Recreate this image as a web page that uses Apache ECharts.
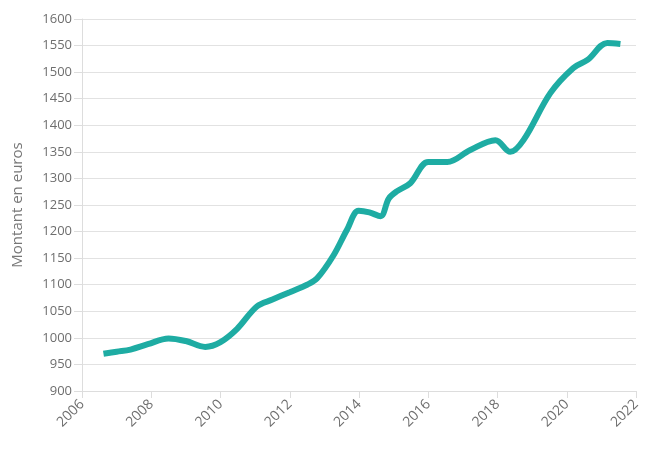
<!DOCTYPE html>
<html>
<head>
<meta charset="utf-8">
<script src="https://cdn.jsdelivr.net/npm/echarts@6/dist/echarts.min.js"></script>
<style>html,body{margin:0;padding:0;background:#fff}#c{width:660px;height:450px}</style>
</head>
<body>
<div id="c"></div>
<script>
const years = [2006.62, 2007.0, 2007.4, 2007.9, 2008.5, 2009.0, 2009.56, 2010.0, 2010.48, 2011.05, 2011.5, 2012.0, 2012.5, 2012.79, 2013.27, 2013.65, 2013.99, 2014.3, 2014.62, 2014.86, 2015.1, 2015.48, 2016.0, 2016.55, 2017.2, 2017.94, 2018.37, 2018.75, 2019.53, 2020.19, 2020.6, 2021.17, 2021.55];
const values = [970, 974, 978, 988, 999, 994, 983, 992, 1017, 1059, 1072, 1086, 1100, 1112, 1156, 1203, 1239, 1236, 1229, 1262, 1276, 1291, 1331, 1331, 1353, 1372, 1350, 1372, 1461, 1508, 1523, 1555, 1553];
const yAxisTitle = 'Montant en euros';

const chart = echarts.init(document.getElementById('c'), null, {renderer: 'canvas'});
chart.setOption({
  animation: false,
  backgroundColor: '#ffffff',
  textStyle: {fontFamily: 'Open Sans'},
  grid: {left: 82, right: 24, top: 19, bottom: 59, containLabel: false},
  xAxis: {
    type: 'value', min: 2006, max: 2022, interval: 2,
    axisLine: {show: true, lineStyle: {color: '#dddddd', width: 1}},
    axisTick: {show: true, length: 7, lineStyle: {color: '#dddddd'}},
    splitLine: {show: false},
    axisLabel: {rotate: 45, color: '#6e6e6e', fontSize: 14, margin: 11, fontFamily: 'Open Sans', formatter: v => String(v)}
  },
  yAxis: {
    type: 'value', min: 900, max: 1600, interval: 50,
    name: yAxisTitle, nameLocation: 'middle', nameGap: 57, nameRotate: 90,
    nameTextStyle: {color: '#777777', fontSize: 15, fontFamily: 'Open Sans'},
    axisLine: {show: true, lineStyle: {color: '#dddddd', width: 1}},
    axisTick: {show: true, length: 8, lineStyle: {color: '#dddddd'}},
    splitLine: {show: true, lineStyle: {color: '#e2e2e2', width: 1}},
    axisLabel: {color: '#6e6e6e', fontSize: 13, margin: 10, fontFamily: 'Open Sans', formatter: v => String(v)}
  },
  series: [{
    type: 'line',
    data: years.map((y, i) => [y, values[i]]),
    smooth: 0.35,
    showSymbol: false,
    lineStyle: {color: '#1eaca3', width: 6, cap: 'butt'}
  }]
});
</script>
</body>
</html>
